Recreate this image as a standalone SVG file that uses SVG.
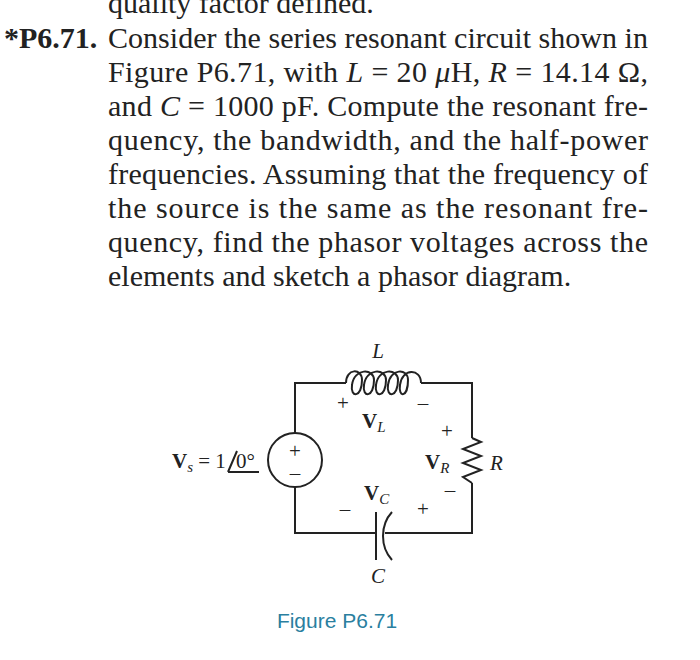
<svg xmlns="http://www.w3.org/2000/svg" width="700" height="660" viewBox="0 0 700 660">
<style>
.t{font-family:"Liberation Serif",serif;font-size:30px;fill:#222}
.w{fill:none;stroke:#222;stroke-width:2}
.l{font-family:"Liberation Serif",serif;font-size:21px;fill:#222}
.i{font-style:italic}
.b{font-weight:bold}
</style>
<rect width="700" height="660" fill="#fff"/>
<g id="text">
<text class="t" x="108" y="13">quality factor defined.</text>
<text class="t" x="4" y="48"><tspan class="b">*P6.71.</tspan></text>
<text class="t" x="108" y="48" textLength="540" lengthAdjust="spacing">Consider the series resonant circuit shown in</text>
<text class="t" x="108" y="82" textLength="540" lengthAdjust="spacing">Figure P6.71, with <tspan class="i">L</tspan> = 20 <tspan class="i">μ</tspan>H, <tspan class="i">R</tspan> = 14.14 Ω,</text>
<text class="t" x="108" y="116" textLength="540" lengthAdjust="spacing">and <tspan class="i">C</tspan> = 1000 pF. Compute the resonant fre-</text>
<text class="t" x="108" y="150" textLength="540" lengthAdjust="spacing">quency, the bandwidth, and the half-power</text>
<text class="t" x="108" y="184" textLength="540" lengthAdjust="spacing">frequencies. Assuming that the frequency of</text>
<text class="t" x="108" y="218" textLength="540" lengthAdjust="spacing">the source is the same as the resonant fre-</text>
<text class="t" x="108" y="252" textLength="540" lengthAdjust="spacing">quency, find the phasor voltages across the</text>
<text class="t" x="108" y="286">elements and sketch a phasor diagram.</text>
</g>
<g id="connectors">
<path class="w" d="M295,433 V383 H346 M421,383 H472 V438 M472,483 V533 H385 M376,533 H295 V487"/>
</g>
<g id="source">
<circle class="w" cx="295" cy="460" r="27"/>
<text class="l" x="295" y="458" text-anchor="middle">+</text>
<text class="l" x="295" y="480" text-anchor="middle">–</text>
<text class="l" x="172" y="468"><tspan class="b">V</tspan><tspan class="i" font-size="15" dy="4">s</tspan><tspan dy="-4"> = 1</tspan></text>
<path class="w" stroke-width="1.5" d="M228,472 L237,451 M228,472 H259"/>
<text class="l" x="236" y="468">0°</text>
</g>
<g id="inductor">
<path class="w" d="M346,383 C346,368 362,368 362,380 C362,398 350,398 352,385 C354,368 374,368 374,380 C374,398 362,398 364,385 C366,368 386,368 386,380 C386,398 374,398 376,385 C378,368 398,368 398,380 C398,398 386,398 388,385 C390,368 408,368 408,380 C408,398 398,398 400,385 C402,368 421,368 421,383"/>
<text class="l i" x="378" y="358" text-anchor="middle">L</text>
<text class="l" x="343" y="410" text-anchor="middle">+</text>
<text class="l" x="423" y="410" text-anchor="middle">–</text>
<text class="l" x="362" y="428"><tspan class="b">V</tspan><tspan class="i" font-size="15" dy="4">L</tspan></text>
</g>
<g id="resistor">
<path class="w" d="M472,438 L481,442 L463,449 L481,456 L463,463 L481,470 L463,477 L472,483"/>
<text class="l" x="447" y="438" text-anchor="middle">+</text>
<text class="l" x="450" y="497" text-anchor="middle">–</text>
<text class="l" x="425" y="469"><tspan class="b">V</tspan><tspan class="i" font-size="15" dy="4">R</tspan></text>
<text class="l i" x="490" y="470">R</text>
</g>
<g id="capacitor">
<path class="w" d="M376,512 V560 M392,512 C380,525 380,547 392,560"/>
<text class="l" x="364" y="500"><tspan class="b">V</tspan><tspan class="i" font-size="15" dy="4">C</tspan></text>
<text class="l" x="345" y="516" text-anchor="middle">–</text>
<text class="l" x="423" y="516" text-anchor="middle">+</text>
<text class="l i" x="378" y="583" text-anchor="middle">C</text>
</g>
<text x="337" y="628" text-anchor="middle" font-family="Liberation Sans,sans-serif" font-size="21" fill="#2a7f9f">Figure P6.71</text>
</svg>
